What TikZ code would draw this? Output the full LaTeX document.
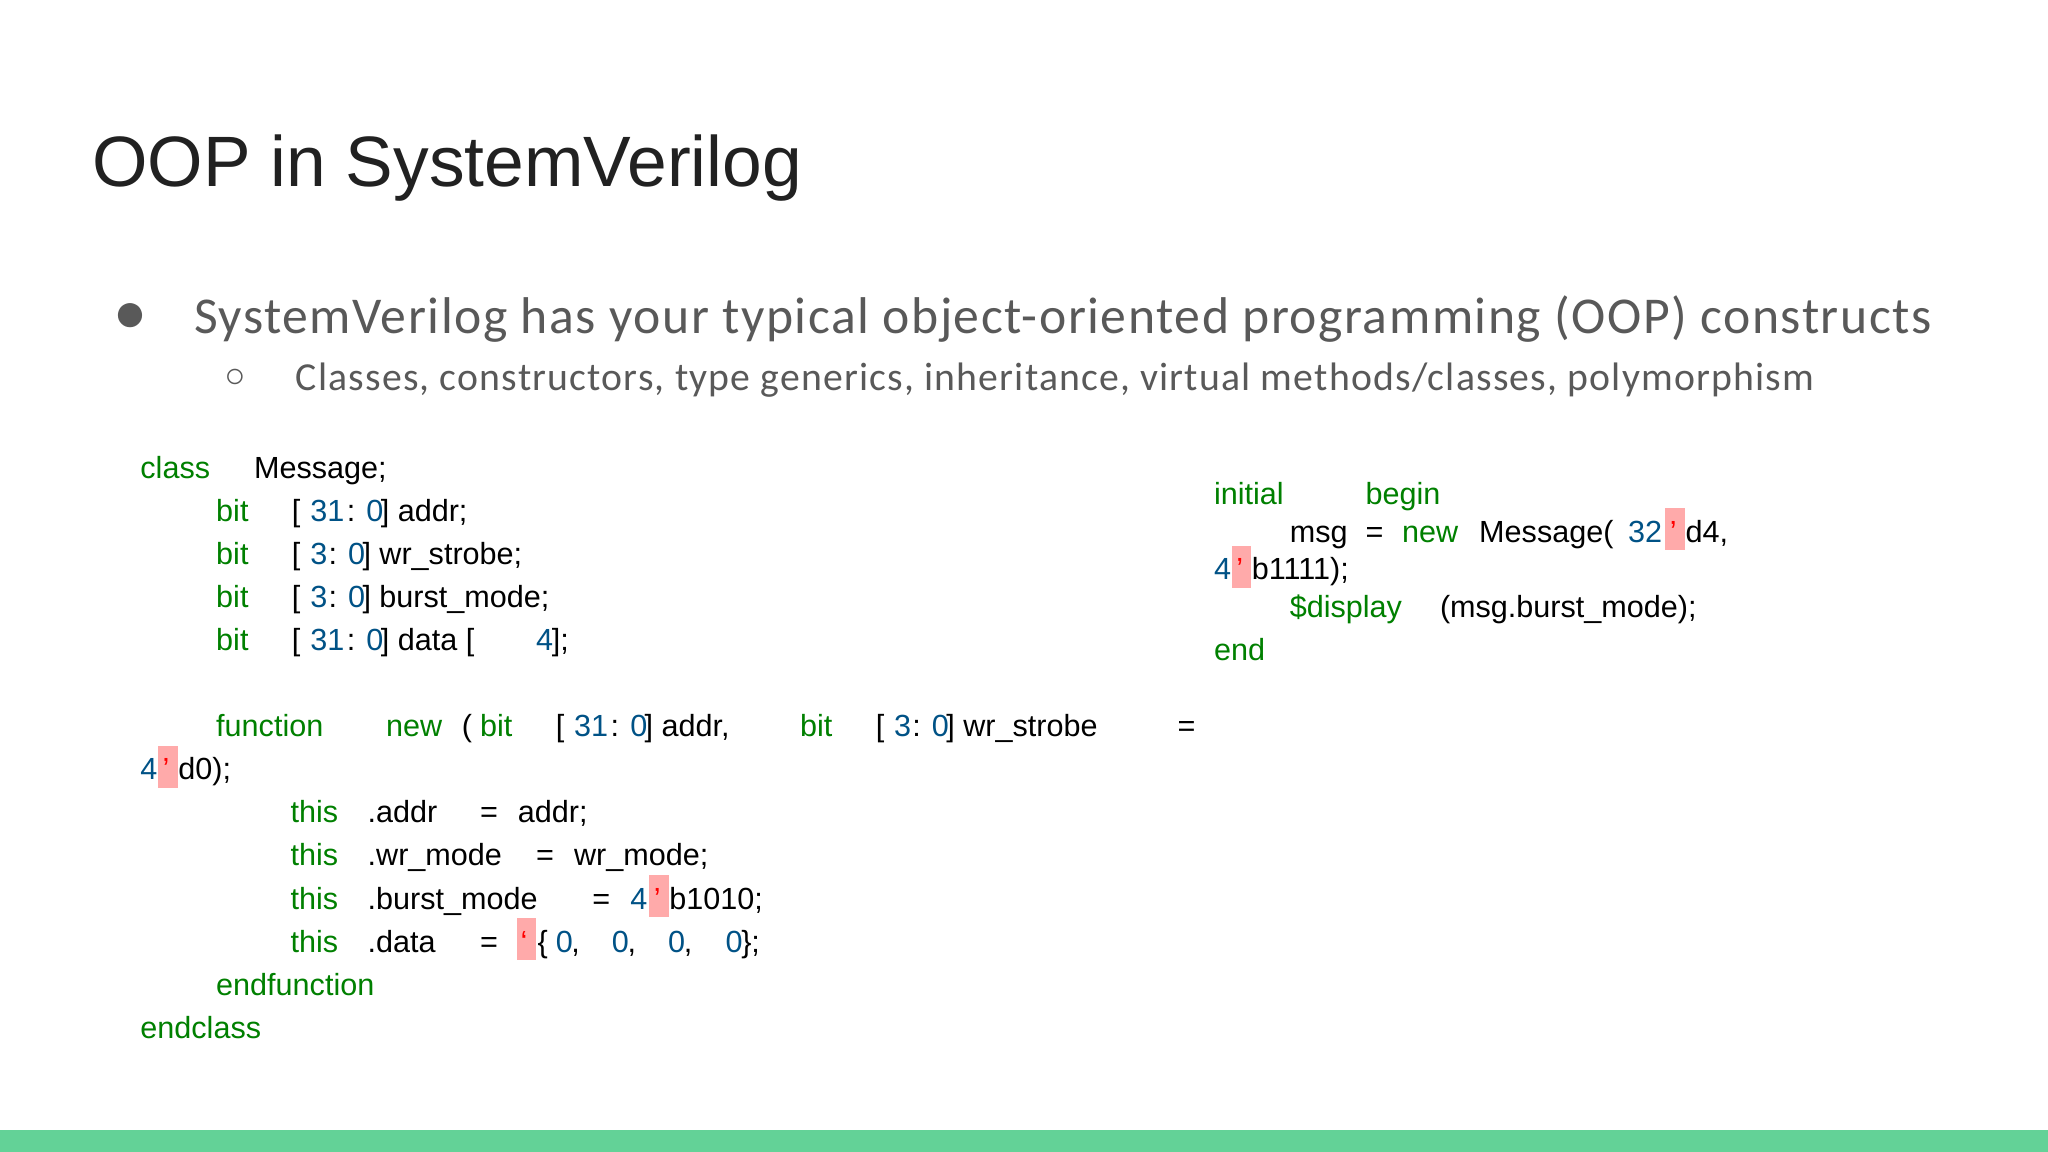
\documentclass[tikz,border=0pt]{standalone}
\usepackage{fontspec}
\setmainfont{Liberation Sans}
\newfontfamily\bulletfont[LetterSpace=3]{Carlito}
\definecolor{kwg}{RGB}{0,128,0}
\definecolor{numb}{RGB}{0,82,134}
\definecolor{hl}{RGB}{255,170,170}
\definecolor{bar}{RGB}{99,210,151}
\definecolor{ttl}{RGB}{33,33,33}
\definecolor{bul}{RGB}{89,89,89}
\newcommand{\C}[4][black]{\node[tok,text=#1] at (#2,#3) {#4};}
\newcommand{\HL}[2]{\fill[hl] (#1,#2-26) rectangle ++(15,32); \node[tok,text=red] at (#1+3,#2) {’};}
\begin{document}
\begin{tikzpicture}[x=0.013061cm,y=-0.013061cm,
  tok/.style={anchor=base west,inner sep=0pt,font=\fontsize{8.7pt}{10pt}\selectfont}]
\useasboundingbox (0,0) rectangle (1568,882);
\fill[white] (0,0) rectangle (1568,882);
\fill[bar] (0,865) rectangle (1568,882);
\node[anchor=base west,inner sep=0pt,text=ttl,font=\fontsize{20.3pt}{24pt}\selectfont] (title) at (70,143) {OOP in SystemVerilog};
\node[anchor=center,inner sep=0pt,text=bul,font=\fontsize{16pt}{18pt}\selectfont] (b1) at (100,243) {●};
\node[anchor=base west,inner sep=0pt,text=bul,font=\bulletfont\fontsize{14.7pt}{18pt}\selectfont] (t1) at (148,255) {SystemVerilog has your typical object-oriented programming (OOP) constructs};
\node[anchor=center,inner sep=0pt,text=bul,font=\fontsize{10pt}{12pt}\selectfont] (b2) at (180,290) {○};
\node[anchor=base west,inner sep=0pt,text=bul,font=\bulletfont\fontsize{11.3pt}{14pt}\selectfont] (t2) at (226,299) {Classes, constructors, type generics, inheritance, virtual methods/classes, polymorphism};
% left code
\C[kwg]{107}{366}{class}\C{194}{366}{Message;}
\C[kwg]{165}{399}{bit}\C{223}{399}{[}\C[numb]{237}{399}{31}\C{265}{399}{:}\C[numb]{280}{399}{0}\C{291}{399}{] addr;}
\C[kwg]{165}{432}{bit}\C{223}{432}{[}\C[numb]{237}{432}{3}\C{251}{432}{:}\C[numb]{266}{432}{0}\C{277}{432}{] wr\_strobe;}
\C[kwg]{165}{465}{bit}\C{223}{465}{[}\C[numb]{237}{465}{3}\C{251}{465}{:}\C[numb]{266}{465}{0}\C{277}{465}{] burst\_mode;}
\C[kwg]{165}{498}{bit}\C{223}{498}{[}\C[numb]{237}{498}{31}\C{265}{498}{:}\C[numb]{280}{498}{0}\C{291}{498}{] data [}\C[numb]{410}{498}{4}\C{422}{498}{];}
\C[kwg]{165}{564}{function}\C[kwg]{295}{564}{new}\C{353}{564}{(}\C[kwg]{367}{564}{bit}\C{425}{564}{[}\C[numb]{439}{564}{31}\C{467}{564}{:}\C[numb]{482}{564}{0}\C{493}{564}{] addr,}
\C[kwg]{612}{564}{bit}\C{670}{564}{[}\C[numb]{684}{564}{3}\C{698}{564}{:}\C[numb]{713}{564}{0}\C{724}{564}{] wr\_strobe}\C{901}{564}{=}
\HL{121}{597}\C[numb]{107}{597}{4}\C{136}{597}{d0);}
\C[kwg]{222}{630}{this}\C{281}{630}{.addr}\C{367}{630}{=}\C{396}{630}{addr;}
\C[kwg]{222}{663}{this}\C{281}{663}{.wr\_mode}\C{410}{663}{=}\C{439}{663}{wr\_mode;}
\HL{497}{696}\C[kwg]{222}{696}{this}\C{281}{696}{.burst\_mode}\C{453}{696}{=}\C[numb]{482}{696}{4}\C{512}{696}{b1010;}
\fill[hl] (396,703) rectangle ++(14,32); \node[tok,text=red] at (398,729) {‘};
\C[kwg]{222}{729}{this}\C{281}{729}{.data}\C{367}{729}{=}\C{411}{729}{\{}\C[numb]{425}{729}{0}\C{437}{729}{,}\C[numb]{468}{729}{0}\C{480}{729}{,}\C[numb]{511}{729}{0}\C{523}{729}{,}\C[numb]{555}{729}{0}\C{567}{729}{\};}
\C[kwg]{165}{762}{endfunction}
\C[kwg]{107}{795}{endclass}
% right code
\C[kwg]{929}{386}{initial}\C[kwg]{1045}{386}{begin}
\HL{1275}{415}\C{987}{415}{msg}\C{1045}{415}{=}\C[kwg]{1073}{415}{new}\C{1132}{415}{Message(}\C[numb]{1246}{415}{32}\C{1290}{415}{d4,}
\HL{943}{444}\C[numb]{929}{444}{4}\C{958}{444}{b1111);}
\C[kwg]{987}{473}{\$display}\C{1102}{473}{(msg.burst\_mode);}
\C[kwg]{929}{506}{end}
\end{tikzpicture}
\end{document}
